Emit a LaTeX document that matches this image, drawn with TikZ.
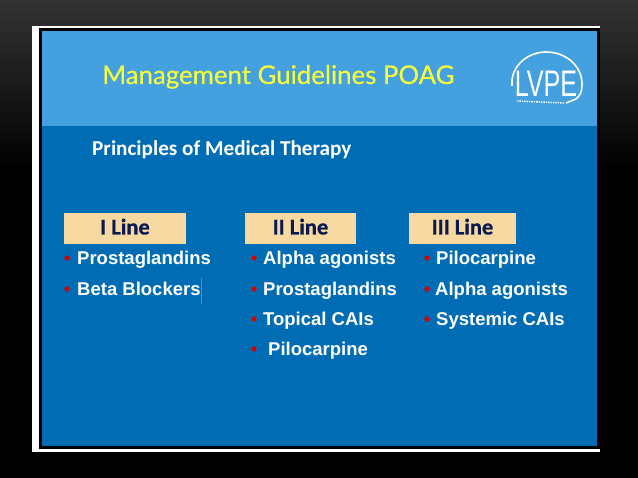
\documentclass[tikz,border=0pt]{standalone}
\usepackage{fontspec}
\setmainfont{Liberation Sans}
\newfontfamily\titlefont[FakeBold=0.35]{Lato}
\newfontfamily\headfont[FakeBold=0.5]{Carlito}
\newfontfamily\subfont{Carlito}
\usetikzlibrary{calc}
\definecolor{panelblue}{HTML}{006CB3}
\definecolor{topblue}{HTML}{44A0DF}
\definecolor{headtan}{HTML}{F5D9A0}
\definecolor{headnavy}{HTML}{0A1A50}
\definecolor{titleyellow}{HTML}{F5FF3C}
\tikzset{
  headbox/.style={fill=headtan,draw=none,inner sep=0pt,text=headnavy,minimum height=31pt,text height=12pt,text depth=0pt,font=\headfont\bfseries\fontsize{22.5}{24}\selectfont},
  item/.style={anchor=base west,inner sep=0pt,text=white,font=\bfseries\fontsize{18.5}{20}\selectfont},
  dot/.style={red!85!black},
}
\begin{document}
\begin{tikzpicture}[x=1pt,y=-1pt]
      \useasboundingbox (0,0) rectangle (638,478);
      \shade[top color=black!80,bottom color=black] (0,0) rectangle (638,170);
      \fill[black] (0,170) rectangle (638,478);
      % slide frame
      \fill[white] (32,26) rectangle (600,452);
      \fill[black] (39,28) rectangle (600,449);
      \fill[panelblue] (42,31) rectangle (597,446);
      \fill[topblue] (42,31) rectangle (597,126);
      \node[anchor=base west,inner sep=0pt,text=titleyellow,font=\titlefont\fontsize{25.8}{28}\selectfont] (title) at (102,84) {Management Guidelines POAG};
      \node[anchor=base west,inner sep=0pt,text=white,font=\subfont\bfseries\fontsize{21.2}{23}\selectfont] (subtitle) at (92,156) {Principles of Medical Therapy};
      % logo
      \node[anchor=base,inner sep=0pt,text=white,font=\fontsize{37}{39}\selectfont] (logo) at (546,97) {\scalebox{0.68}[1]{LVPE}};
      \draw[white,line width=1.6pt] (512,86) -- (512,80) .. controls (514,63) and (530,52) .. (546,52) .. controls (566,52) and (582,66) .. (582,84) .. controls (582,92) and (580,96) .. (576,99) -- (566,103);
      \draw[white,line width=1.4pt,densely dotted] (517,101) -- (564,103);
      % column heads
      \node[headbox,minimum width=122pt] (lineone) at (125,228.5) {I Line};
      \node[headbox,minimum width=111pt] (linetwo) at (300.5,228.5) {II Line};
      \node[headbox,minimum width=107pt] (linethree) at (462.5,228.5) {III Line};
      % first column
      \node[item] (oneA) at (77,265) {Prostaglandins};
      \node[item] (oneB) at (77,296) {Beta Blockers};
      \fill[dot] (67,258) circle [radius=2.6pt];
      \fill[dot] (67,289) circle [radius=2.6pt];
      \draw[black!50,line width=1.5pt] (201.5,278) -- (201.5,304);
      % second column
      \node[item] (twoA) at (263,265) {Alpha agonists};
      \node[item] (twoB) at (263,296) {Prostaglandins};
      \node[item] (twoC) at (263,326) {Topical CAIs};
      \node[item] (twoD) at (268,356) {Pilocarpine};
      \fill[dot] (254,258) circle [radius=2.6pt];
      \fill[dot] (254,289) circle [radius=2.6pt];
      \fill[dot] (254,319) circle [radius=2.6pt];
      \fill[dot] (254,349) circle [radius=2.6pt];
      % third column
      \node[item] (threeA) at (436,265) {Pilocarpine};
      \node[item] (threeB) at (435,296) {Alpha agonists};
      \node[item] (threeC) at (436,326) {Systemic CAIs};
      \fill[dot] (427,258) circle [radius=2.6pt];
      \fill[dot] (427,289) circle [radius=2.6pt];
      \fill[dot] (427,319) circle [radius=2.6pt];
    \end{tikzpicture}
\end{document}
